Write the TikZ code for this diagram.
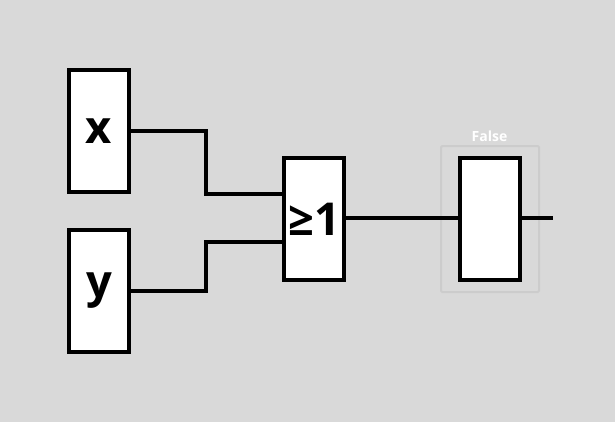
\documentclass[tikz,border=0pt]{standalone}
\usepackage{fontspec}
\setmainfont{Open Sans}
\usetikzlibrary{positioning}
\definecolor{bg}{HTML}{D9D9D9}
\definecolor{frame}{HTML}{CCCCCC}
\begin{document}
\begin{tikzpicture}[x=0.75pt,y=-0.75pt
        , gate/.style={ draw, fill=white, line width=3pt, minimum width=45pt, minimum height=92pt, inner sep=0pt, font=\fontsize{34}{34}\selectfont\bfseries }
        , wire/.style={ line width=2.7pt }
        ]
        \fill[bg] (0,0) rectangle (615,422);

        % inputs
        \node[gate] (x) at (99,131) {x};
        \node[gate] (y) at (99,291) {y};

        % or gate
        \node[gate] (or) at (314,219) {≥1};

        % output with frame
        \draw[frame, line width=1.5pt, rounded corners=1pt] (441,146) rectangle (539,292);
        \node[gate] (out) at (489.5,219) {};
        \node[white, font=\fontsize{10.5}{11}\selectfont\bfseries, above=7pt of out] (lbl) {False};
        \coordinate (end) at (553,218);

        \draw[wire] (x.east) -| (206,194) -- (or.west |- 0,194);
        \draw[wire] (y.east) -| (206,242) -- (or.west |- 0,242);
        \draw[wire] (or.east |- 0,218) -- (out.west |- 0,218);
        \draw[wire] (out.east |- 0,218) -- (end);
    \end{tikzpicture}
\end{document}
